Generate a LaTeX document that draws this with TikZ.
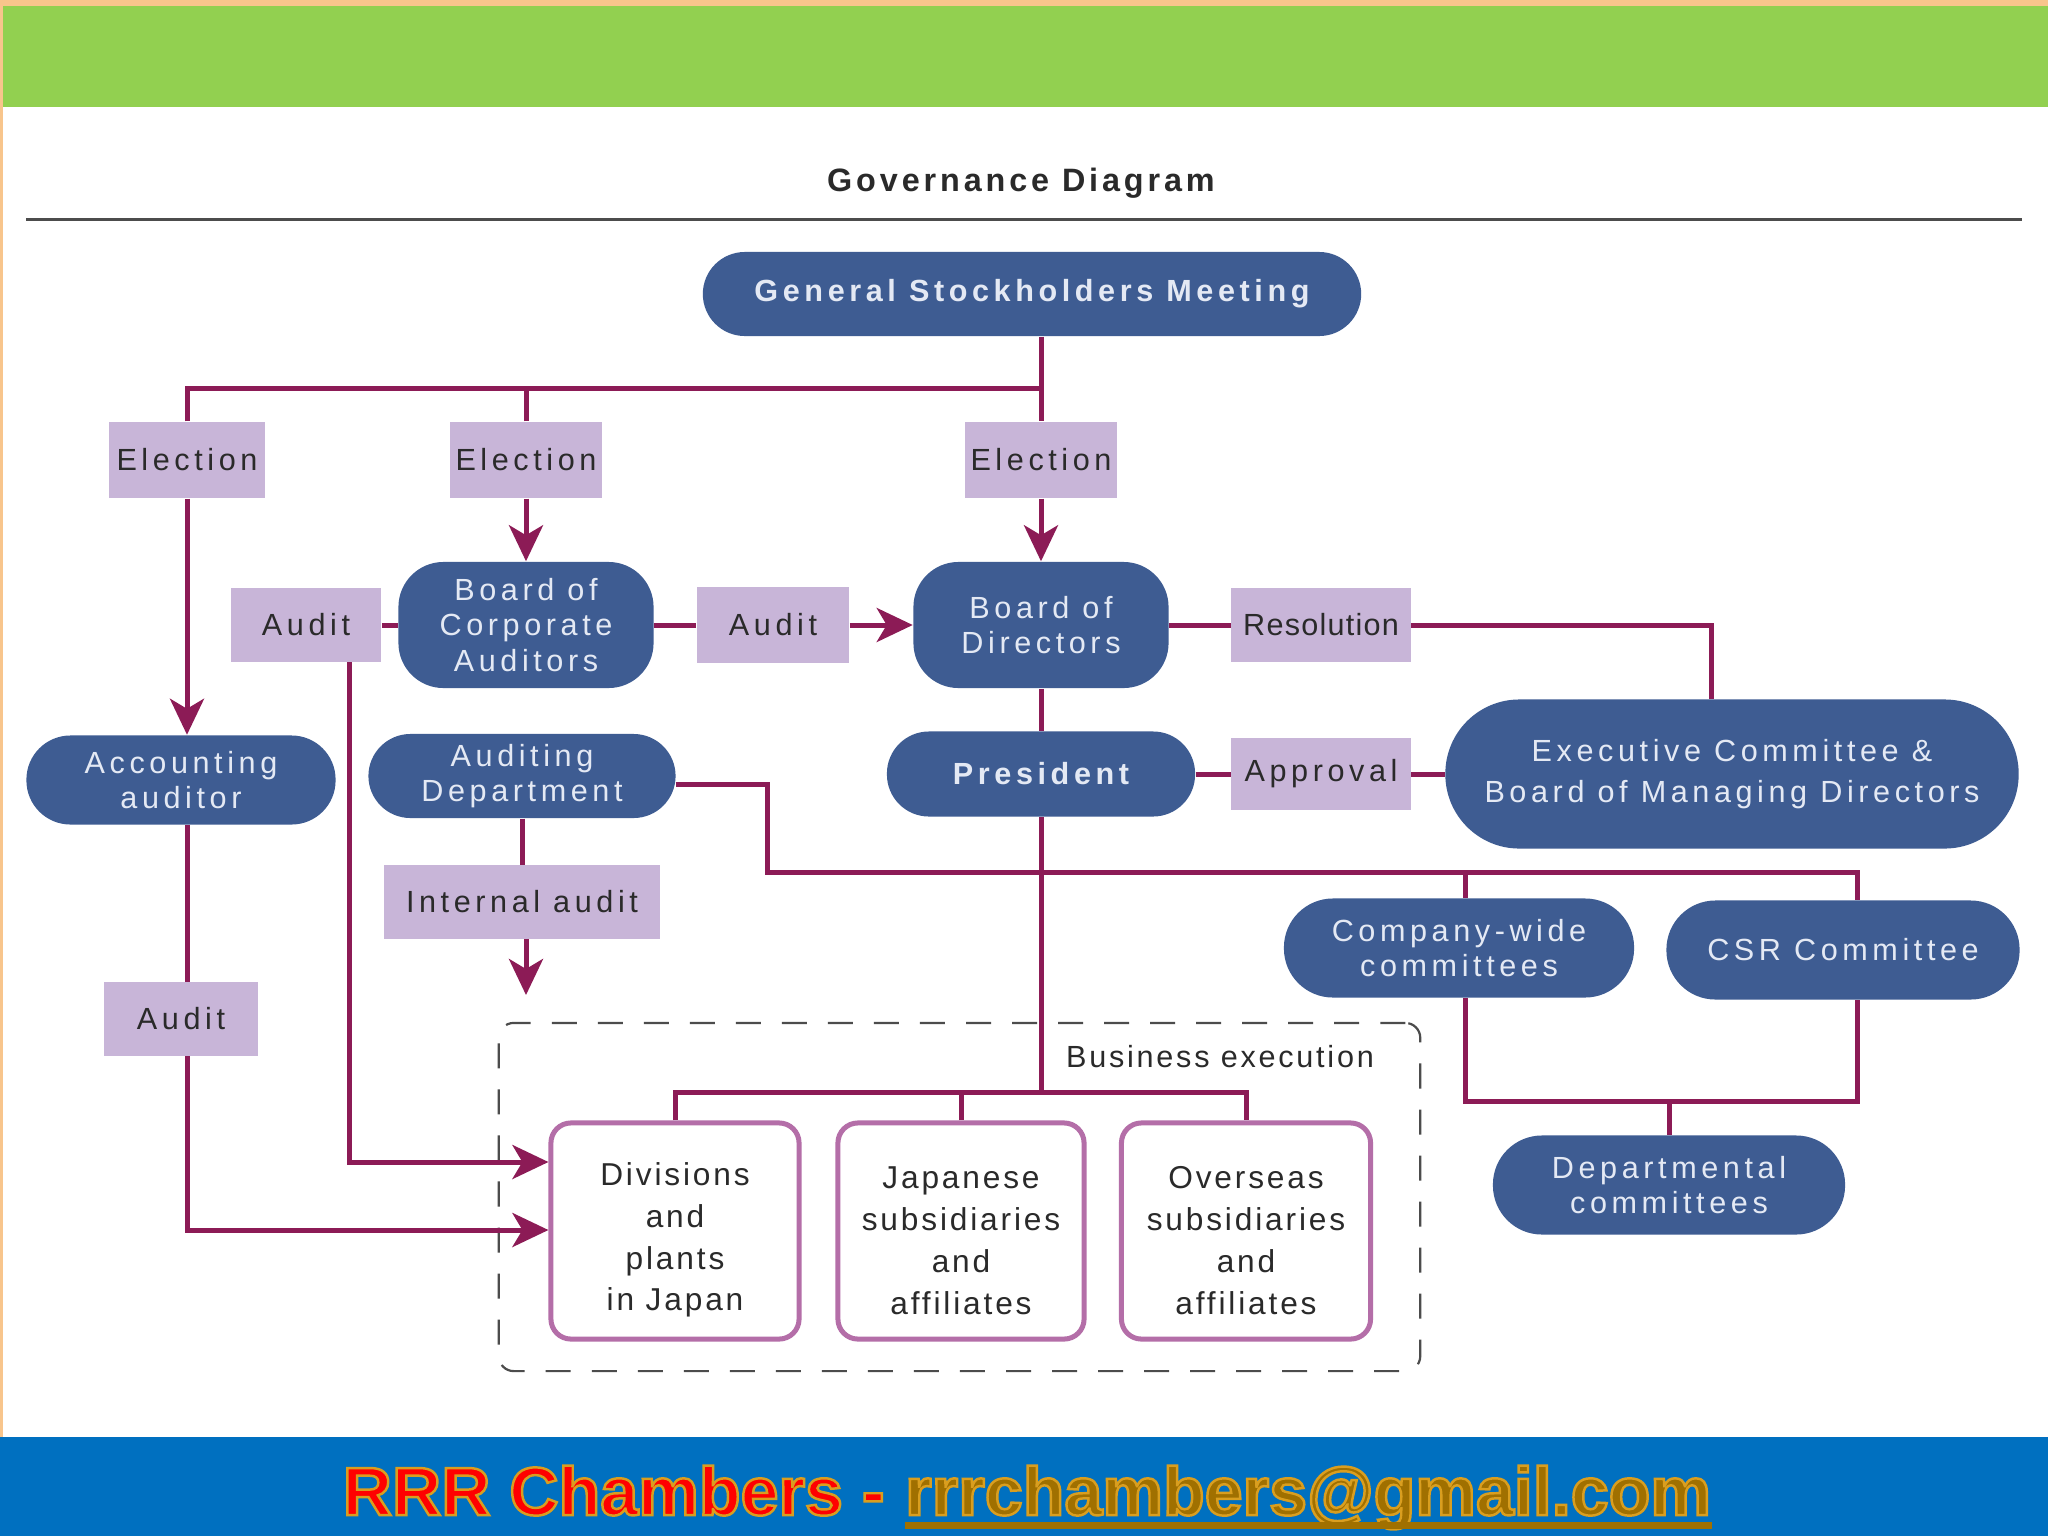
\documentclass[tikz,border=0pt]{standalone}
\usepackage{fontspec}
\setmainfont{Liberation Sans}
\newfontfamily\lsf[LetterSpace=15]{Liberation Sans}
\newfontfamily\lsr[LetterSpace=4]{Liberation Sans}
\newfontfamily\lst[LetterSpace=12]{Liberation Sans}
\newfontfamily\lsg[LetterSpace=9]{Liberation Sans}
\usetikzlibrary{arrows.meta,calc}
\definecolor{nodeblue}{HTML}{3E5C92}
\definecolor{conn}{HTML}{8C1B56}
\definecolor{lav}{HTML}{C8B5D8}
\definecolor{bizb}{HTML}{B46EA8}
\definecolor{grn}{HTML}{92D050}
\definecolor{foot}{HTML}{0070C0}
\definecolor{peach}{HTML}{F8C58C}
\definecolor{nodetxt}{HTML}{E4E9F4}
\definecolor{gold}{HTML}{A07000}
\definecolor{txtdark}{HTML}{2A2A2A}
\newcommand\myfs{\fontsize{8.7}{10}\selectfont}
\newcommand\outlon{\special{pdf:literal direct 2 Tr 0.7 w 0.85 0.62 0.12 RG}}
\newcommand\outloff{\special{pdf:literal direct 0 Tr}}
\newcommand\bstrut{\rule{0pt}{11.6pt}}
\begin{document}
\begin{tikzpicture}[x=0.01cm,y=-0.01cm,
  pill/.style={fill=nodeblue, text=nodetxt, font=\lsf\myfs, align=center, inner sep=0pt},
  lbl/.style={fill=lav, text=txtdark, font=\lsf\myfs, inner sep=0pt, align=center},
  biz/.style={draw=bizb, line width=0.05cm, fill=white, rounded corners=0.2cm, text=txtdark,
    font=\lsg\fontsize{9}{11.9}\selectfont, align=center, inner sep=0pt},
  conline/.style={draw=conn, line width=0.05cm},
  arr/.style={conline, -{Stealth[length=0.36cm,width=0.34cm,inset=0.1cm]}},
  dashbox/.style={draw=black!70, line width=0.022cm, dash pattern=on 0.25cm off 0.21cm, rounded corners=0.15cm, inner sep=0pt},
]
\useasboundingbox (0,0) rectangle (2048,1536);
% background
\fill[white] (0,0) rectangle (2048,1536);
\fill[peach] (0,0) rectangle (2048,6);
\fill[grn] (3,6) rectangle (2048,107);
\fill[peach] (0,0) rectangle (3,1437);
\fill[foot] (0,1437) rectangle (2048,1536);

% title
\node[font=\lst\bfseries\fontsize{9.2}{11}\selectfont, text=txtdark] (title) at (1021,183) {Governance Diagram};
\coordinate (rl) at (26,219);
\coordinate (rr) at (2022,219);
\draw[line width=0.03cm, black!70] (rl) -- (rr);

% business execution box
\node[dashbox, minimum width=9.21cm, minimum height=3.48cm] (bizbox) at (959.5,1197) {};
\node[font=\lsg\myfs, text=txtdark] (bizlbl) at (1220,1057) {Business execution};

% main nodes
\node[pill, font=\lsf\bfseries\myfs, minimum width=6.58cm, minimum height=0.84cm, rounded corners=0.42cm] (gsm) at (1032,294) {General Stockholders Meeting};
\node[lbl, minimum width=1.55cm, minimum height=0.76cm] (el1) at (187,460) {Election};
\node[lbl, minimum width=1.52cm, minimum height=0.76cm] (el2) at (526,460) {Election};
\node[lbl, minimum width=1.51cm, minimum height=0.76cm] (el3) at (1041,460) {Election};
\node[pill, minimum width=2.55cm, minimum height=1.26cm, rounded corners=0.45cm] (bca) at (526,625) {Board of\\Corporate\\Auditors};
\node[lbl, minimum width=1.50cm, minimum height=0.73cm] (au1) at (306,625) {Audit};
\node[lbl, minimum width=1.52cm, minimum height=0.75cm] (au2) at (773,625) {Audit};
\node[pill, minimum width=2.55cm, minimum height=1.26cm, rounded corners=0.45cm] (bod) at (1041,625) {Board of\\Directors};
\node[lbl, font=\lsr\myfs, minimum width=1.79cm, minimum height=0.73cm] (res) at (1321,625) {Resolution};
\node[pill, font=\lsf\fontsize{8.7}{11.5}\selectfont, minimum width=5.73cm, minimum height=1.49cm, rounded corners=0.74cm] (exe) at (1732,774) {Executive Committee \&\\Board of Managing Directors};
\node[pill, font=\lsf\bfseries\myfs, minimum width=3.08cm, minimum height=0.85cm, rounded corners=0.42cm] (pres) at (1041,774) {President};
\node[lbl, minimum width=1.79cm, minimum height=0.72cm] (appr) at (1321,774) {Approval};
\node[pill, minimum width=3.09cm, minimum height=0.89cm, rounded corners=0.44cm] (acc) at (181,780) {Accounting\\auditor};
\node[pill, minimum width=3.07cm, minimum height=0.84cm, rounded corners=0.42cm] (adep) at (522,776) {Auditing\\Department};
\node[lbl, minimum width=2.75cm, minimum height=0.73cm] (ia) at (522,902) {Internal audit};
\node[lbl, minimum width=1.53cm, minimum height=0.73cm] (au3) at (181,1019) {Audit};
\node[pill, minimum width=3.50cm, minimum height=0.99cm, rounded corners=0.49cm] (cw) at (1459,948) {Company-wide\\committees};
\node[pill, minimum width=3.53cm, minimum height=0.99cm, rounded corners=0.49cm] (csr) at (1843,950) {CSR Committee};
\node[pill, minimum width=3.52cm, minimum height=0.99cm, rounded corners=0.49cm] (dep) at (1669,1185) {Departmental\\committees};
\node[biz, minimum width=2.48cm, minimum height=2.16cm] (div) at (675,1231) {\bstrut Divisions\\and\\plants\\in Japan};
\node[biz, minimum width=2.46cm, minimum height=2.16cm] (jap) at (961,1231) {\bstrut Japanese\\subsidiaries\\and\\affiliates};
\node[biz, minimum width=2.49cm, minimum height=2.16cm] (ovs) at (1246,1231) {\bstrut Overseas\\subsidiaries\\and\\affiliates};

% helper coordinates
\coordinate (tb) at (1041,388);
\coordinate (ctl1) at (349,1162);
\coordinate (ctl2) at (187,1230);
\coordinate (rx) at (1711,700);
\coordinate (bb) at (1041,1092);
\coordinate (d0) at (767,784);
\coordinate (d1) at (767,872);
\coordinate (cx) at (1857,872);
\coordinate (cwx) at (1465,872);
\coordinate (d2) at (1465,1101);
\coordinate (iae) at (526,995);

% connectors
\draw[conline] (gsm.south -| el3) -- (el3.north);
\draw[conline] (el1.north) |- (tb);
\draw[conline] (el2.north) -- (el2.north |- tb);
\draw[arr] (el1.south) -- (el1.south |- acc.north);
\draw[arr] (el2.south) -- (bca.north);
\draw[arr] (el3.south) -- (bod.north);
\draw[conline] (bca.west) -- (au1.east);
\draw[arr] (au1.south -| ctl1) |- (ctl1 -| div.west);
\draw[conline] (bca.east) -- (au2.west);
\draw[arr] (au2.east) -- (bod.west);
\draw[conline] (bod.east) -- (res.west);
\draw[conline] (res.east) -| (exe.north -| rx);
\draw[conline] (bod.south) -- (pres.north);
\draw[conline] (pres.east) -- (appr.west);
\draw[conline] (appr.east) -- (exe.west);
\draw[conline] (pres.south) -- (bb);
\draw[conline] (div.north) |- (bb) -| (ovs.north);
\draw[conline] (jap.north) -- (jap.north |- bb);
\draw[conline] (adep.east |- d0) -- (d0) -- (d1) -- (cx) -- (csr.north -| cx);
\draw[conline] (cw.north -| cwx) -- (cwx);
\draw[conline] (cw.south -| d2) -- (d2) -- (d2 -| cx) -- (csr.south -| cx);
\draw[conline] (dep.north) -- (dep.north |- d2);
\draw[conline] (adep.south) -- (ia.north);
\draw[arr] (ia.south -| iae) -- (iae);
\draw[conline] (acc.south -| ctl2) -- (au3.north -| ctl2);
\draw[arr] (au3.south -| ctl2) |- (ctl2 -| div.west);

% footer
\node[anchor=base west, inner sep=0pt, text=red, font=\bfseries\fontsize{19.4}{22}\selectfont] (rrr) at (342,1515) {\outlon RRR Chambers -\outloff};
\node[anchor=base west, inner sep=0pt, text=gold, font=\bfseries\fontsize{19.4}{22}\selectfont] (mail) at ($(rrr.base east)+(19,0)$) {\outlon rrrchambers@gmail.com\outloff};
\draw[gold, line width=0.07cm] ($(mail.base west)+(0,10)$) -- ($(mail.base east)+(0,10)$);
\end{tikzpicture}
\end{document}
